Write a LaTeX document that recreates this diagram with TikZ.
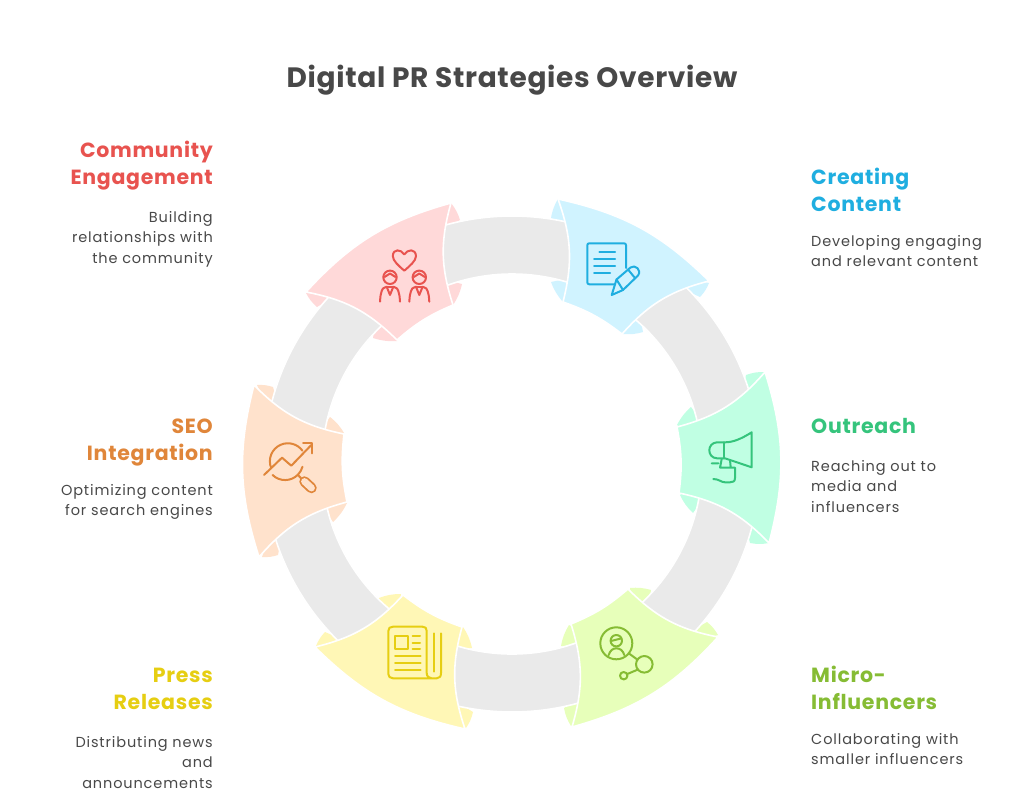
\documentclass[tikz,border=0pt]{standalone}
\usepackage{fontspec}
\setmainfont{Poppins}
\usetikzlibrary{calc}
\definecolor{ringgrey}{HTML}{EAEAEA}
\definecolor{pinkF}{HTML}{FFD9D9}\definecolor{pinkS}{HTML}{E8534F}
\definecolor{blueF}{HTML}{D0F3FF}\definecolor{blueS}{HTML}{1FAEE0}
\definecolor{mintF}{HTML}{C0FFE3}\definecolor{mintS}{HTML}{35C47C}
\definecolor{limeF}{HTML}{E7FFBA}\definecolor{limeS}{HTML}{86BC34}
\definecolor{yelF}{HTML}{FFF7B6}\definecolor{yelS}{HTML}{E6CE12}
\definecolor{orF}{HTML}{FFE2CC}\definecolor{orS}{HTML}{E0863A}
\definecolor{txt}{HTML}{484848}
\newfontfamily\headfont[LetterSpace=3.5]{Poppins}
\newfontfamily\bodyfont[LetterSpace=6]{Poppins}
\newfontfamily\titlefont[LetterSpace=2.5]{Poppins}
\tikzset{
  tilefill/.style={fill=#1,draw=white,line width=1.6pt,line join=round},
  icon/.style={draw=#1,line width=2pt,line cap=round,line join=round},
  headR/.style={anchor=north east,align=right,font=\headfont\fontsize{20.5}{27}\selectfont\bfseries,inner sep=0pt},
  headL/.style={anchor=north west,align=left,font=\headfont\fontsize{20.5}{27}\selectfont\bfseries,inner sep=0pt},
  bodyR/.style={anchor=north east,align=right,text=txt,font=\bodyfont\fontsize{14.5}{20.5}\selectfont,inner sep=0pt},
  bodyL/.style={anchor=north west,align=left,text=txt,font=\bodyfont\fontsize{14.5}{20.5}\selectfont,inner sep=0pt},
}
\newcommand{\tabpiece}[5]{\fill[#1] #2 to[bend #5=10] #3 -- #4 -- cycle;}
\newcommand{\tilepiece}[5]{\path[tilefill=#1] #2 to[bend left=16] #3 to[bend right=17] #4 to[bend right=9] #5 to[bend right=17] #2 -- cycle;}
\begin{document}
\begin{tikzpicture}[x=1pt,y=-1pt]
\useasboundingbox (0,0) rectangle (1024,808);
\fill[white] (0,0) rectangle (1024,808);
\node[anchor=center,inner sep=0pt,text=txt,font=\titlefont\fontsize{28}{30}\selectfont\bfseries] (title) at (512,80) {Digital PR Strategies Overview};
% tabs
\tabpiece{pinkF}{(451,203)}{(460,220)}{(385,265)}{left}
\tabpiece{pinkF}{(453,305)}{(462,284)}{(385,265)}{right}
\tabpiece{pinkF}{(306,293)}{(317,307)}{(385,265)}{right}
\tabpiece{pinkF}{(397,341)}{(373,338)}{(385,265)}{left}
\tabpiece{blueF}{(558,199)}{(551,218)}{(630,265)}{right}
\tabpiece{blueF}{(563,302)}{(551,282)}{(630,265)}{left}
\tabpiece{blueF}{(709,283)}{(700,297)}{(630,265)}{left}
\tabpiece{blueF}{(623,334)}{(643,332)}{(630,265)}{right}
\tabpiece{mintF}{(765,372)}{(746,375)}{(730,460)}{right}
\tabpiece{mintF}{(677,425)}{(691,407)}{(730,460)}{left}
\tabpiece{mintF}{(680,495)}{(693,513)}{(730,460)}{right}
\tabpiece{mintF}{(769,543)}{(750,543)}{(730,460)}{left}
\tabpiece{limeF}{(630,588)}{(651,590)}{(640,660)}{left}
\tabpiece{limeF}{(718,635)}{(707,622)}{(640,660)}{right}
\tabpiece{limeF}{(569,625)}{(561,646)}{(640,660)}{right}
\tabpiece{limeF}{(571,726)}{(564,708)}{(640,660)}{left}
\tabpiece{yelF}{(401,594)}{(379,598)}{(390,660)}{right}
\tabpiece{yelF}{(316,646)}{(325,632)}{(390,660)}{left}
\tabpiece{yelF}{(463,627)}{(472,648)}{(390,660)}{left}
\tabpiece{yelF}{(466,728)}{(473,712)}{(390,660)}{right}
\tabpiece{orF}{(257,385)}{(273,387)}{(295,465)}{left}
\tabpiece{orF}{(344,433)}{(330,417)}{(295,465)}{right}
\tabpiece{orF}{(347,503)}{(333,522)}{(295,465)}{left}
\tabpiece{orF}{(262,557)}{(278,555)}{(295,465)}{right}
% ring
\draw[ringgrey,line width=58pt] (512,464) circle[radius=219];
\draw[white,line width=1.6pt] (512,464) circle[radius=248];
\draw[white,line width=1.6pt] (512,464) circle[radius=190];
% tiles: outer1, outer2, inner2, inner1 (clockwise)
\tilepiece{pinkF}{(306,292)}{(451,203)}{(453,305)}{(397,340)}
\tilepiece{blueF}{(558,199)}{(709,281)}{(622,334)}{(563,302)}
\tilepiece{mintF}{(765,372)}{(769,543)}{(679,493)}{(677,427)}
\tilepiece{limeF}{(718,637)}{(572,727)}{(571,624)}{(628,589)}
\tilepiece{yelF}{(465,729)}{(315,647)}{(403,595)}{(462,627)}
\tilepiece{orF}{(259,557)}{(254,385)}{(344,434)}{(347,502)}
% pink icon
\draw[icon=pinkS] (404.3,254.5) .. controls (401,249) and (393,248.5) .. (392.8,256) .. controls (392.8,261) and (399,266) .. (404.3,270.7) .. controls (409.6,266) and (416,261) .. (416,256) .. controls (415.6,248.5) and (407.6,249) .. (404.3,254.5) -- cycle;
\foreach \dx in {0,29.3}{
\draw[icon=pinkS,xshift=\dx] (390,277.3) circle[radius=6.7];
\draw[icon=pinkS,xshift=\dx] (384.5,277) .. controls (387,276) .. (390,273.5) .. controls (393,276) .. (395.5,277);
\draw[icon=pinkS,xshift=\dx] (380,301.7) .. controls (380.5,295) .. (381.7,291) .. controls (382.5,288.5) .. (386.7,286.7) -- (390,295) -- (393.3,286.7) .. controls (397.5,288.5) .. (398.3,291) .. controls (399.5,295) .. (400,301.7);
\draw[icon=pinkS,xshift=\dx] (386.7,286.7) -- (393.3,286.7);
}
% blue icon
\draw[icon=blueS] (615,284.3) -- (589.3,284.3) .. controls (588,284.3) and (587.3,283.6) .. (587.3,282.3) -- (587.3,245.3) .. controls (587.3,244) and (588,243.3) .. (589.3,243.3) -- (624,243.3) .. controls (625.3,243.3) and (626,244) .. (626,245.3) -- (626,268);
\draw[icon=blueS] (599.3,251.7) -- (615,251.7) (594,259) -- (615,259) (594,265.7) -- (615,265.7) (594,272.7) -- (610,272.7);
\draw[icon=blueS] (611.7,295) -- (616.5,279.5) -- (630.5,267.5) .. controls (635,264) and (642,270) .. (638,275.5) -- (623,290) -- cycle;
\draw[icon=blueS] (616.5,279.5) -- (623,290) (628,269.5) -- (635,278);
% mint icon
\draw[icon=mintS] (751.7,432.3) .. controls (741,439) and (733,442.3) .. (725,442.3) -- (717,442.3) .. controls (706.5,443) and (707,458) .. (717,458.3) -- (725,458.3) -- (751.7,467.3) -- cycle;
\draw[icon=mintS] (724,442.3) -- (724,458.3);
\draw[icon=mintS] (711.7,463.3) -- (718.3,463.3) (721.7,459) -- (720,467.7) (730,460) -- (730.7,467.7) (720,467.7) -- (735,467.7) .. controls (735,472) .. (735,478) .. controls (735,481.5) and (733,482.3) .. (730,482.3) -- (725,482.3) .. controls (721,482.3) and (719,479) .. (713.3,479);
% orange icon
\draw[icon=orS] (271.3,468.3) arc[start angle=157,end angle=324,radius=18];
\draw[icon=orS] (272.6,475) arc[start angle=134,end angle=15,radius=18];
\draw[icon=orS] (264,475) -- (282,457.7) -- (291.3,465.7) -- (311.3,445);
\draw[icon=orS] (303,443.3) -- (312,443.3) -- (312,453.3);
\draw[icon=orS] (297.5,474.5) -- (301.3,478.5);
\draw[orS,line width=10.5pt,line cap=round] (304.5,481.5) -- (311.5,488);
\draw[orF,line width=6.8pt,line cap=round] (304.5,481.5) -- (311.5,488);
% yellow icon
\draw[icon=yelS] (431.7,678.3) -- (393,678.3) .. controls (390,678.3) and (388.3,676.5) .. (388.3,674) -- (388.3,631) .. controls (388.3,628) and (390,626.7) .. (393,626.7) -- (422.5,626.7) .. controls (425.5,626.7) and (426.7,628) .. (426.7,631) -- (426.7,673) .. controls (426.7,676.5) and (429,678.3) .. (431.7,678.3) -- (436.7,678.3) .. controls (439.5,678.3) and (441,676.5) .. (441,673) -- (441,633.3);
\draw[icon=yelS] (433.5,633.3) -- (433.5,671.7);
\draw[icon=yelS] (395,636) rectangle (408.3,649.3);
\draw[icon=yelS] (412.7,636) -- (420,636) (412.7,642.7) -- (420,642.7) (412.7,649.3) -- (420,649.3);
\draw[icon=yelS] (395,656) -- (420.7,656) (395,662.7) -- (420.7,662.7) (395,670) -- (420.7,670);
% lime icon
\draw[icon=limeS] (616.3,643.3) circle[radius=16];
\draw[icon=limeS] (616.3,640.7) circle[radius=5.7];
\draw[icon=limeS] (611,641) -- (621,638.5);
\draw[icon=limeS] (608.7,655) .. controls (610,650.5) and (613,648.3) .. (616.3,648.3) .. controls (620,648.3) and (623,650.5) .. (624.3,655);
\draw[icon=limeS] (628.7,653.3) -- (637,659.3);
\draw[icon=limeS] (644.3,664.3) circle[radius=8.3];
\draw[icon=limeS] (638,669.5) -- (627.3,674);
\draw[icon=limeS] (623.7,675.7) circle[radius=3.7];
% text
\node[headR,text=pinkS] (h1) at (213,141) {Community\\Engagement};
\node[bodyR] (b1) at (213,211) {Building\\relationships with\\the community};
\node[headL,text=blueS] (h2) at (811,168) {Creating\\Content};
\node[bodyL] (b2) at (811,235) {Developing engaging\\and relevant content};
\node[headL,text=mintS] (h3) at (811,418) {Outreach};
\node[bodyL] (b3) at (811,460) {Reaching out to\\media and\\influencers};
\node[headL,text=limeS] (h4) at (811,666) {Micro-\\Influencers};
\node[bodyL] (b4) at (811,733) {Collaborating with\\smaller influencers};
\node[headR,text=yelS] (h5) at (213,668) {Press\\Releases};
\node[bodyR] (b5) at (213,736) {Distributing news\\and\\announcements};
\node[headR,text=orS] (h6) at (213,419) {SEO\\Integration};
\node[bodyR] (b6) at (213,484) {Optimizing content\\for search engines};
\end{tikzpicture}
\end{document}
